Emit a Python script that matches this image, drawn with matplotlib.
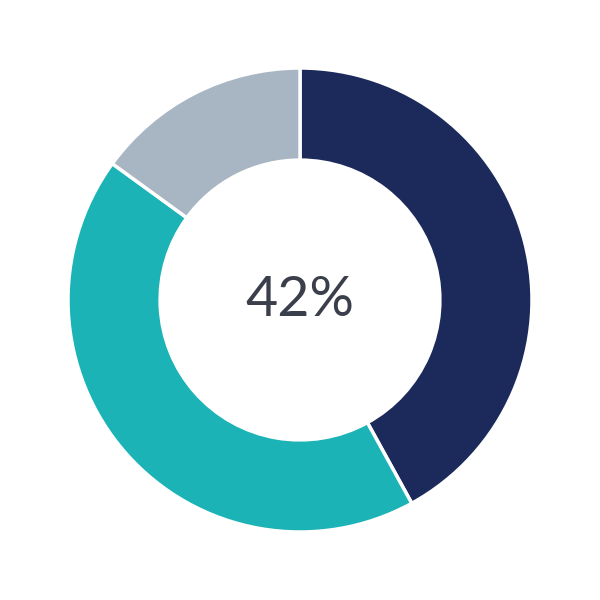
import matplotlib
matplotlib.use("Agg")
import matplotlib.pyplot as plt

# data
labels = ["Navy", "Teal", "Grey"]
values = [42, 43, 15]
colors = ["#1b2a5b", "#1bb3b6", "#a8b5c3"]
center_text = "42%"

fig = plt.figure(figsize=(6, 6), dpi=100)
ax = fig.add_axes([0, 0, 1, 1])
ax.pie(values, colors=colors, startangle=90, counterclock=False,
       radius=1.0,
       wedgeprops=dict(width=0.397, edgecolor="white", linewidth=2.5))
ax.text(0, 0, center_text, ha="center", va="center", fontsize=40,
        color="#3a3f4b", family=["Lato", "DejaVu Sans"])
lim = 300 / 232
ax.set_xlim(-lim, lim)
ax.set_ylim(-lim, lim)
ax.set_aspect("equal")
ax.axis("off")
plt.savefig("out.png", dpi=100, facecolor="white")
